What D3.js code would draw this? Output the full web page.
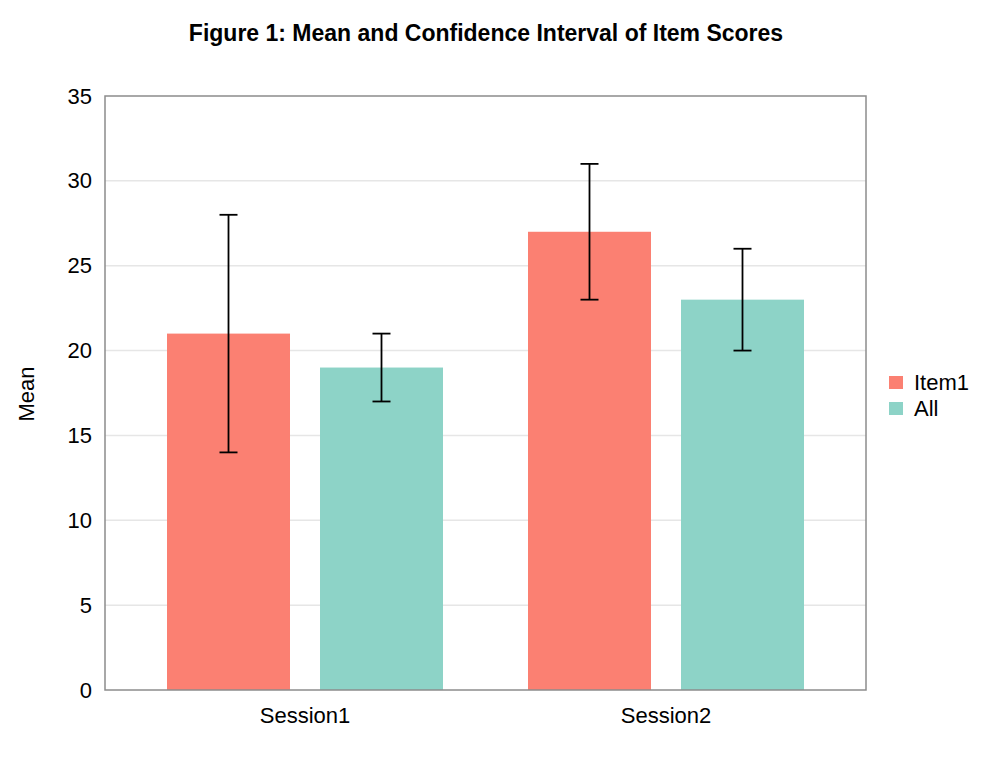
<!DOCTYPE html>
<html>
<head>
<meta charset="utf-8">
<script src="https://cdn.jsdelivr.net/npm/d3@7"></script>
<style>
  body { margin: 0; background: #fff; }
  svg text { font-family: "Liberation Sans", Arial, sans-serif; fill: #000; }
</style>
</head>
<body>
<div id="chart"></div>
<script>
// data
const sessions = ["Session1", "Session2"];
const series = ["Item1", "All"];
const means = [[21, 19], [27, 23]];
const lower = [[14, 17], [23, 20]];
const upper = [[28, 21], [31, 26]];
const colors = ["#fb8072", "#8dd3c7"];
const yTicks = [0, 5, 10, 15, 20, 25, 30, 35];

const width = 997, height = 767;
const plotLeft = 105, plotRight = 866, plotTop = 96, plotBottom = 690;

let svg = d3.select("#chart").append("svg")
    .attr("width", width)
    .attr("height", height);

let x0 = d3.scaleBand().domain(sessions).range([plotLeft, plotRight])
    .paddingInner(85 / 361).paddingOuter(62 / 361);
let x1 = d3.scaleBand().domain(series).range([0, x0.bandwidth()])
    .paddingInner(30 / 153).paddingOuter(0);
let y = d3.scaleLinear().domain([0, 35]).range([plotBottom, plotTop]);

// grid lines
svg.append("g")
    .selectAll("line")
    .data(yTicks.slice(1, -1))
    .enter().append("line")
    .attr("x1", plotLeft).attr("x2", plotRight)
    .attr("y1", d => y(d)).attr("y2", d => y(d))
    .attr("stroke", "#e6e6e6").attr("stroke-width", 1.5);

// rows of data for the marks
let rows = [];
sessions.forEach((s, i) => {
    series.forEach((k, j) => {
        rows.push({session: s, key: k, mean: means[i][j], lo: lower[i][j], hi: upper[i][j], color: colors[j]});
    });
});

svg.append("g")
    .selectAll("rect")
    .data(rows)
    .enter().append("rect")
    .attr("x", d => x0(d.session) + x1(d.key))
    .attr("width", x1.bandwidth())
    .attr("y", d => y(d.mean))
    .attr("height", d => y(0) - y(d.mean))
    .attr("fill", d => d.color);

// error bars
let err = svg.append("g")
    .attr("stroke", "#000")
    .attr("stroke-width", 1.8)
    .selectAll("g")
    .data(rows)
    .enter().append("g")
    .attr("transform", d => `translate(${x0(d.session) + x1(d.key) + x1.bandwidth() / 2},0)`);
err.append("line").attr("y1", d => y(d.lo)).attr("y2", d => y(d.hi));
err.append("line").attr("x1", -9).attr("x2", 9).attr("y1", d => y(d.lo)).attr("y2", d => y(d.lo));
err.append("line").attr("x1", -9).attr("x2", 9).attr("y1", d => y(d.hi)).attr("y2", d => y(d.hi));

// plot border
svg.append("rect")
    .attr("x", plotLeft).attr("y", plotTop)
    .attr("width", plotRight - plotLeft).attr("height", plotBottom - plotTop)
    .attr("fill", "none").attr("stroke", "#8c8c8c").attr("stroke-width", 1.5);

// axes (no tick marks, no domain line)
let yAxis = svg.append("g")
    .attr("transform", `translate(${plotLeft},0)`)
    .call(d3.axisLeft(y).tickValues(yTicks).tickSize(0).tickPadding(13));
yAxis.select(".domain").remove();
yAxis.selectAll("text").style("font-size", "22px").style("font-family", "Liberation Sans, Arial, sans-serif");

let xAxis = svg.append("g")
    .attr("transform", `translate(0,${plotBottom})`)
    .call(d3.axisBottom(x0).tickSize(0).tickPadding(17));
xAxis.select(".domain").remove();
xAxis.selectAll("text").style("font-size", "22px").style("font-family", "Liberation Sans, Arial, sans-serif");

// title and axis label
svg.append("text")
    .attr("x", 486).attr("y", 41)
    .attr("text-anchor", "middle")
    .style("font-size", "23px").style("font-weight", "bold")
    .text("Figure 1: Mean and Confidence Interval of Item Scores");

svg.append("text")
    .attr("transform", `translate(34,394) rotate(-90)`)
    .attr("text-anchor", "middle")
    .style("font-size", "22px")
    .text("Mean");

// legend
let legend = svg.append("g")
    .selectAll("g")
    .data(series)
    .enter().append("g")
    .attr("transform", (d, i) => `translate(889,${376 + i * 26})`);
legend.append("rect").attr("width", 14).attr("height", 13).attr("fill", (d, i) => colors[i]);
legend.append("text").attr("x", 25).attr("y", 14).style("font-size", "22px").text(d => d);
</script>
</body>
</html>
